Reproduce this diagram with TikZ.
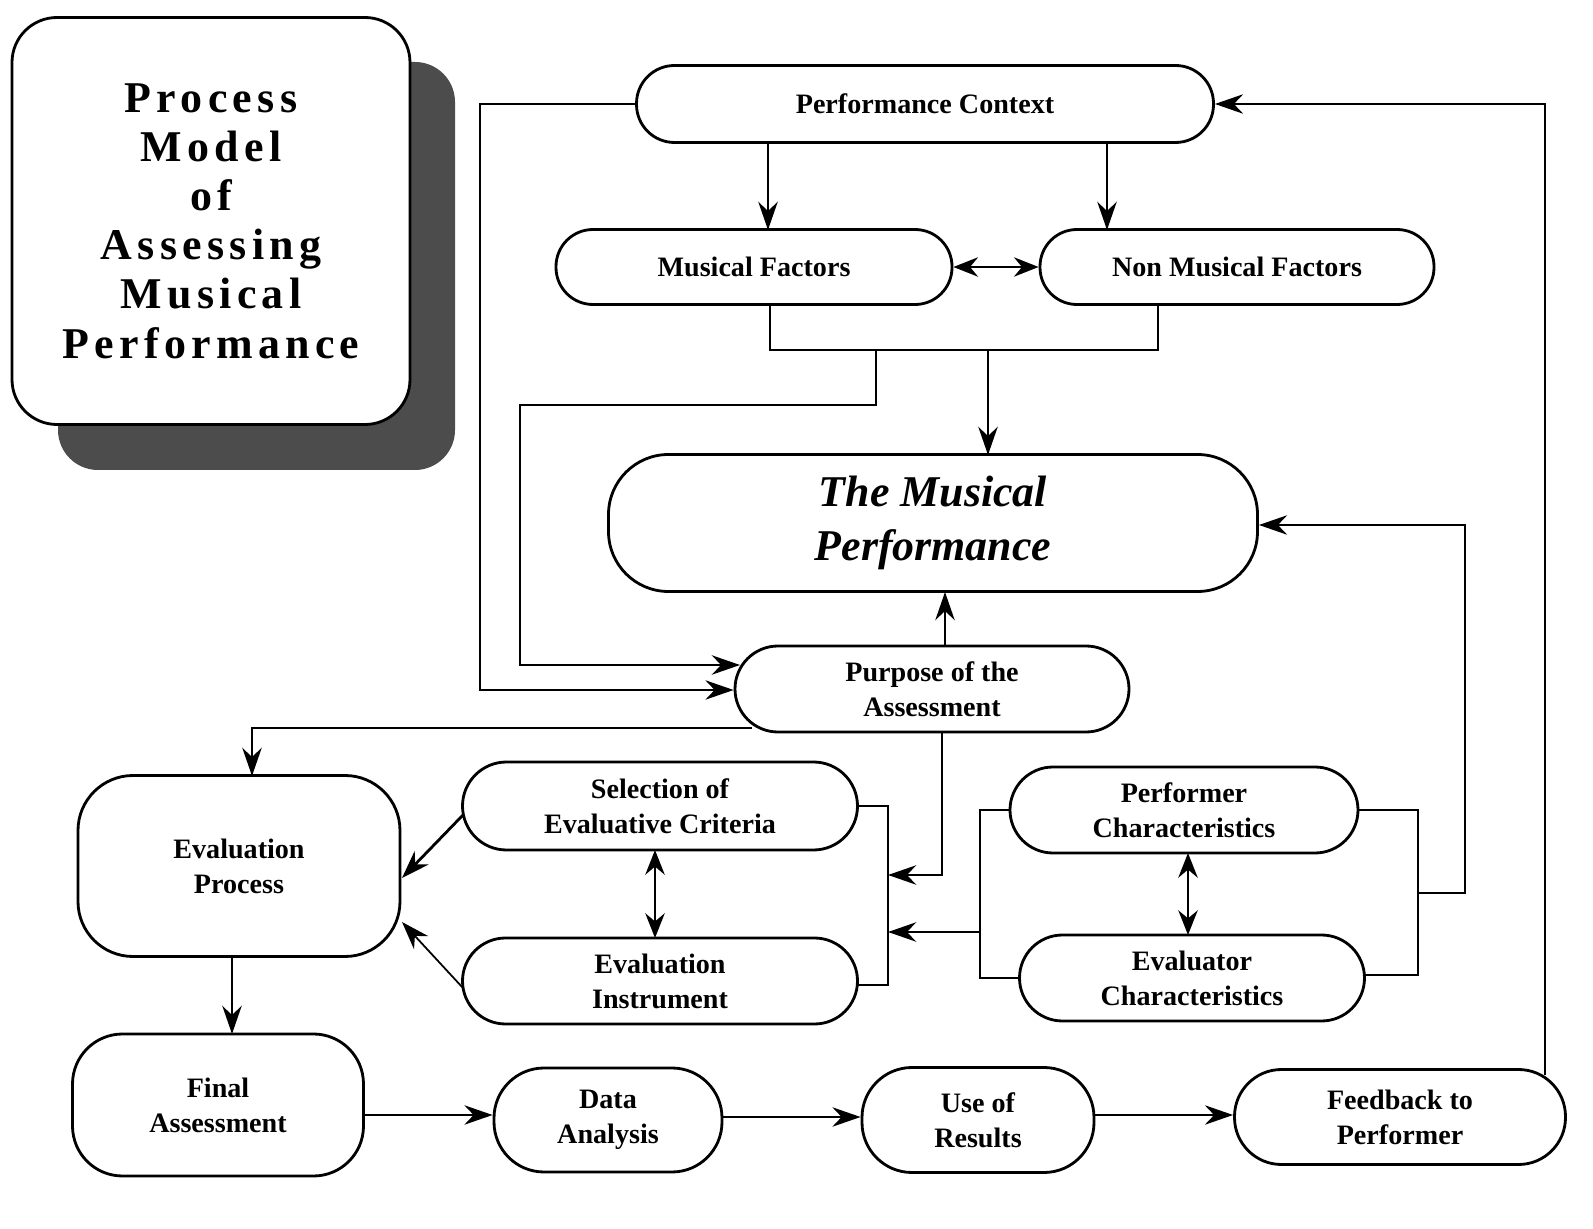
\documentclass[tikz,border=0pt]{standalone}
\usepackage{fontspec}
\setmainfont{Liberation Serif}
\newfontfamily\titlefont[LetterSpace=12]{Liberation Serif}
\usetikzlibrary{arrows.meta}
\begin{document}
\begin{tikzpicture}[x=0.02cm,y=-0.02cm,
  ln/.style={line width=1.6pt},
  ar/.style={ln,-{Stealth[length=16pt,width=11pt]}},
  dar/.style={ln,{Stealth[length=14pt,width=11pt]}-{Stealth[length=14pt,width=11pt]}},
  bx/.style={draw,line width=1.6pt,align=center,inner sep=0pt,font=\fontsize{16}{20}\selectfont\bfseries}]
\useasboundingbox (0,0) rectangle (1593,1229);
\newcommand\bxn[6]{\node[bx,minimum width=#3*0.02cm,minimum height=#4*0.02cm,rounded corners=#5*0.02cm] (#1) at #2 {#6};}
% title
\fill[black!70,rounded corners=0.8cm] (58,62) rectangle (455,470);
\node[draw,fill=white,line width=1.6pt,rounded corners=0.9cm,minimum width=398*0.02cm,minimum height=407*0.02cm,align=center,inner sep=0pt,font=\fontsize{25}{28}\selectfont\titlefont\bfseries] (T) at (211,221) {Process\\Model\\of\\Assessing\\Musical\\Performance};
\bxn{PC}{(925,104)}{577}{77}{38}{Performance Context}
\bxn{MF}{(754,267)}{396}{75}{37}{Musical Factors}
\bxn{NMF}{(1237,267)}{394}{75}{37}{Non Musical Factors}
\node[bx,minimum width=649*0.02cm,minimum height=137*0.02cm,rounded corners=60*0.02cm,font=\fontsize{25}{31}\selectfont\itshape\bfseries] (MP) at (933,523) {The Musical\\Performance};
\bxn{PA}{(932,689)}{394}{86}{43}{Purpose of the\\Assessment}
\bxn{EP}{(239,866)}{322}{181}{55}{Evaluation\\Process}
\bxn{SC}{(660,806)}{395}{88}{44}{Selection of\\Evaluative Criteria}
\bxn{EI}{(660,981)}{395}{86}{43}{Evaluation\\Instrument}
\bxn{PCh}{(1184,810)}{348}{86}{43}{Performer\\Characteristics}
\bxn{ECh}{(1192,978)}{345}{86}{43}{Evaluator\\Characteristics}
\bxn{FA}{(218,1105)}{291}{142}{50}{Final\\Assessment}
\bxn{DA}{(608,1120)}{228}{104}{50}{Data\\Analysis}
\bxn{UR}{(978,1120)}{232}{105}{50}{Use of\\Results}
\bxn{FP}{(1400,1117)}{331}{95}{47}{Feedback to\\Performer}
% connectors
\draw[ar] (PC.west) -- (480,104) -- (480,690) -- (PA.west |- 0,690);
\draw[ar] (768,143) -- (768,230);
\draw[ar] (1107,143) -- (1107,230);
\draw[dar] (MF.east) -- (NMF.west);
\draw[ln] (770,305) -- (770,350) -- (1158,350) -- (1158,305);
\draw[ar] (988,350) -- (988,455);
\coordinate (j1) at (876,350);
\draw[ar] (j1) -- (876,405) -- (520,405) -- (520,665) -- (740,665);
\draw[ar] (945,646) -- (945,592);
\draw[ar] (752,728) -- (252,728) -- (252,776);
\draw[ar] (942,732) -- (942,875) -- (888,875);
\draw[ln] (SC.east) -- (888,806) -- (888,985) -- (858,985);
\draw[ln] (PCh.west) -- (980,810) -- (980,978) -- (ECh.west);
\draw[ar] (980,932) -- (888,932);
\draw[ln] (PCh.east) -- (1418,810) -- (1418,975) -- (1365,975);
\draw[ar] (1418,893) -- (1465,893) -- (1465,525) -- (MP.east |- 0,525);
\draw[dar] (655,850) -- (655,938);
\draw[dar] (1188,853) -- (1188,935);
\draw[ar] (463,815) -- (402,878);
\draw[ar,line width=1pt] (463,988) -- (402,922);
\draw[ar] (232,957) -- (232,1034);
\draw[ar] (FA.east |- 0,1115) -- (DA.west |- 0,1115);
\draw[ar] (DA.east |- 0,1117) -- (UR.west |- 0,1117);
\draw[ar] (UR.east |- 0,1115) -- (FP.west |- 0,1115);
\draw[ar] (1545,1075) -- (1545,104) -- (PC.east);
\end{tikzpicture}
\end{document}
